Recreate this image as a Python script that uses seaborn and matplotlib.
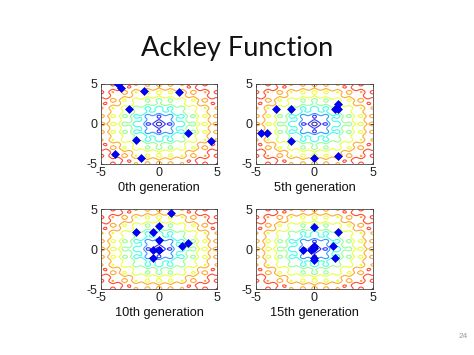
import numpy as np
import matplotlib
matplotlib.use("Agg")
import matplotlib.pyplot as plt
import seaborn as sns
import pandas as pd

titles = ["0th generation", "5th generation", "10th generation", "15th generation"]
gen0_x = [-3.55, -3.26, -1.27, 1.72, -2.55, 2.52, -2.01, 4.49, -3.77, -1.55]
gen0_y = [4.95, 4.5, 4.16, 3.95, 1.93, -1.18, -1.97, -2.18, -3.74, -4.29]
gen5_x = [-4.57, -4.06, -3.29, -2.01, 1.72, 2.01, 2.01, -2.01, -0.01, 2.01]
gen5_y = [-1.18, -1.18, 1.93, 1.93, 1.93, 1.93, 2.48, -2.18, -4.24, -4.03]
gen10_x = [1.01, -2.01, -0.5, -0.01, 0.0, -0.5, 0.0, -0.5, 2.01, 2.49]
gen10_y = [4.5, 2.18, 2.18, 2.9, 1.09, -0.17, -0.17, -1.18, 0.38, 0.8]
gen15_x = [0.0, 2.01, -1.01, -0.3, 0.0, 0.0, 1.55, 0.0, 0.0, 1.72]
gen15_y = [2.69, 2.14, -0.17, -0.17, 0.17, 0.38, 0.38, -1.18, -1.43, -1.18]
ticks = [-5, 0, 5]
n_intervals = 9

gens = [(gen0_x, gen0_y), (gen5_x, gen5_y), (gen10_x, gen10_y), (gen15_x, gen15_y)]

g = np.linspace(-5, 5, 201)
X, Y = np.meshgrid(g, g)
Z = (-20 * np.exp(-0.2 * np.sqrt(0.5 * (X**2 + Y**2)))
     - np.exp(0.5 * (np.cos(2 * np.pi * X) + np.cos(2 * np.pi * Y))) + np.e + 20)
levels = np.linspace(Z.min(), Z.max(), n_intervals + 1)[1:-1]

sns.set_style("ticks")
plt.rcParams['font.family'] = ['Liberation Sans', 'DejaVu Sans']

fig = plt.figure(figsize=(4.74, 3.55), dpi=100)
W, H = 474, 355
boxes = [(101, 84, 217, 164), (256, 84, 373, 164), (101, 209, 217, 289), (256, 209, 373, 289)]
for (x0, y0, x1, y1), (px, py), t in zip(boxes, gens, titles):
    ax = fig.add_axes([x0 / W, 1 - y1 / H, (x1 - x0) / W, (y1 - y0) / H])
    ax.contour(X, Y, Z, levels=levels, cmap="jet", vmin=levels[0], vmax=Z.max(),
               linewidths=0.8, alpha=0.8)
    df = pd.DataFrame({"x": px, "y": py})
    sns.scatterplot(data=df, x="x", y="y", ax=ax, marker="D", color="#0000ff",
                    edgecolor="#0000cc", s=16, linewidth=0.5, zorder=5)
    ax.set_xlim(-5, 5)
    ax.set_ylim(-5, 5)
    ax.set_xticks(ticks)
    ax.set_yticks(ticks)
    ax.set_xticklabels([str(v) for v in ticks])
    ax.set_yticklabels([str(v) for v in ticks])
    ax.tick_params(direction="in", length=2.5, labelsize=9, pad=2.5, top=True, right=True,
                   width=0.6, colors="#222222")
    for s in ax.spines.values():
        s.set_linewidth(0.6)
        s.set_color("#444444")
        s.set_visible(True)
    ax.set_xlabel(t, fontsize=9.2, labelpad=1.5, color="#111111")
    ax.set_ylabel("")

fig.text(0.5, 1 - 56 / H, "Ackley Function", ha="center", va="baseline",
         fontsize=19.5, family=["Lato", "DejaVu Sans"], color="#111111")
fig.text(468 / W, 1 - 337 / H, "24", ha="right", va="center", fontsize=6, color="#999999")
fig.savefig("out.png", dpi=100)
